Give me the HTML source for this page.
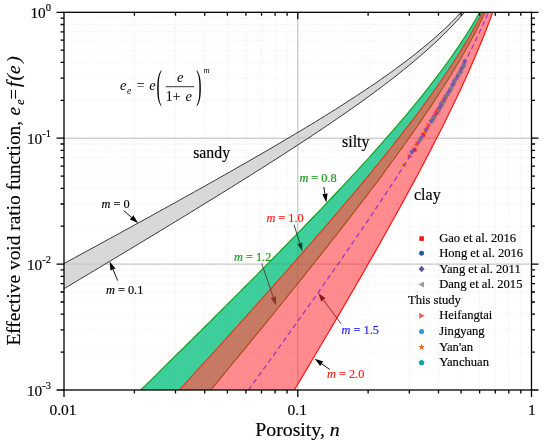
<!DOCTYPE html>
<html><head><meta charset="utf-8"><title>Effective void ratio function</title>
<style>html,body{margin:0;padding:0;background:#fff}svg{display:block}text{stroke:#000;stroke-width:.16px}.f text{stroke:none}</style></head>
<body>
<svg width="550" height="446" viewBox="0 0 550 446" font-family="'Liberation Serif', serif">
<rect width="550" height="446" fill="#fff"/>
<path d="M134.4,12.3 V390.0 M175.5,12.3 V390.0 M204.7,12.3 V390.0 M227.4,12.3 V390.0 M245.9,12.3 V390.0 M261.5,12.3 V390.0 M275.1,12.3 V390.0 M287.1,12.3 V390.0 M368.1,12.3 V390.0 M409.3,12.3 V390.0 M438.5,12.3 V390.0 M461.1,12.3 V390.0 M479.6,12.3 V390.0 M495.3,12.3 V390.0 M508.8,12.3 V390.0 M520.8,12.3 V390.0 M64.0,352.1 H531.5 M64.0,329.9 H531.5 M64.0,314.2 H531.5 M64.0,302.0 H531.5 M64.0,292.0 H531.5 M64.0,283.6 H531.5 M64.0,276.3 H531.5 M64.0,269.9 H531.5 M64.0,226.2 H531.5 M64.0,204.0 H531.5 M64.0,188.3 H531.5 M64.0,176.1 H531.5 M64.0,166.1 H531.5 M64.0,157.7 H531.5 M64.0,150.4 H531.5 M64.0,144.0 H531.5 M64.0,100.3 H531.5 M64.0,78.1 H531.5 M64.0,62.4 H531.5 M64.0,50.2 H531.5 M64.0,40.2 H531.5 M64.0,31.8 H531.5 M64.0,24.5 H531.5 M64.0,18.1 H531.5" stroke="#e9e9e9" stroke-width="0.8" stroke-dasharray="1.2 1.6" fill="none"/>
<path d="M297.8,12.3 V390.0 M64.0,138.2 H531.5 M64.0,264.1 H531.5" stroke="#a8a8a8" stroke-width="0.8" fill="none"/>
<clipPath id="c"><rect x="64.0" y="12.3" width="467.5" height="377.7"/></clipPath>
<g clip-path="url(#c)">
<path d="M64.0,263.6 L69.0,260.8 L74.1,258.1 L79.1,255.3 L84.1,252.6 L89.1,249.9 L94.2,247.1 L99.2,244.4 L104.2,241.6 L109.2,238.9 L114.3,236.1 L119.3,233.4 L124.3,230.6 L129.4,227.9 L134.4,225.1 L139.4,222.3 L144.4,219.6 L149.5,216.8 L154.5,214.0 L159.5,211.2 L164.5,208.5 L169.6,205.7 L174.6,202.9 L179.6,200.1 L184.6,197.3 L189.7,194.5 L194.7,191.7 L199.7,188.9 L204.8,186.1 L209.8,183.2 L214.8,180.4 L219.8,177.6 L224.9,174.7 L229.9,171.9 L234.9,169.0 L239.9,166.1 L245.0,163.3 L250.0,160.4 L255.0,157.5 L260.1,154.6 L265.1,151.7 L270.1,148.8 L275.1,145.8 L280.2,142.9 L285.2,139.9 L290.2,136.9 L295.2,133.9 L300.3,130.9 L305.3,127.9 L310.3,124.9 L315.4,121.8 L320.4,118.7 L325.4,115.6 L330.4,112.5 L335.5,109.3 L340.5,106.1 L345.5,102.9 L350.5,99.7 L355.6,96.4 L360.6,93.1 L365.6,89.8 L370.6,86.4 L375.7,83.0 L380.7,79.5 L385.7,76.0 L390.8,72.4 L395.8,68.7 L400.8,65.0 L405.8,61.3 L410.9,57.4 L415.9,53.5 L420.9,49.4 L425.9,45.3 L431.0,41.1 L436.0,36.7 L441.0,32.2 L446.1,27.5 L451.1,22.6 L456.1,17.6 L461.1,12.3 L464.4,12.3 L459.4,18.1 L454.3,23.6 L449.2,28.9 L444.2,34.0 L439.1,38.9 L434.0,43.7 L429.0,48.3 L423.9,52.8 L418.8,57.2 L413.7,61.5 L408.7,65.7 L403.6,69.8 L398.5,73.9 L393.5,77.9 L388.4,81.8 L383.3,85.6 L378.3,89.4 L373.2,93.2 L368.1,96.9 L363.1,100.6 L358.0,104.2 L352.9,107.8 L347.9,111.3 L342.8,114.8 L337.7,118.3 L332.6,121.8 L327.6,125.2 L322.5,128.7 L317.4,132.0 L312.4,135.4 L307.3,138.8 L302.2,142.1 L297.2,145.4 L292.1,148.7 L287.0,152.0 L282.0,155.3 L276.9,158.5 L271.8,161.7 L266.8,165.0 L261.7,168.2 L256.6,171.4 L251.5,174.6 L246.5,177.8 L241.4,180.9 L236.3,184.1 L231.3,187.3 L226.2,190.4 L221.1,193.6 L216.1,196.7 L211.0,199.8 L205.9,202.9 L200.9,206.0 L195.8,209.2 L190.7,212.3 L185.7,215.4 L180.6,218.5 L175.5,221.5 L170.4,224.6 L165.4,227.7 L160.3,230.8 L155.2,233.9 L150.2,236.9 L145.1,240.0 L140.0,243.1 L135.0,246.1 L129.9,249.2 L124.8,252.2 L119.8,255.3 L114.7,258.3 L109.6,261.4 L104.6,264.4 L99.5,267.5 L94.4,270.5 L89.3,273.6 L84.3,276.6 L79.2,279.6 L74.1,282.7 L69.1,285.7 L64.0,288.7Z" fill="#c8c8c8" fill-opacity="0.7" stroke="none"/>
<path d="M64.0,263.6 L69.0,260.8 L74.1,258.1 L79.1,255.3 L84.1,252.6 L89.1,249.9 L94.2,247.1 L99.2,244.4 L104.2,241.6 L109.2,238.9 L114.3,236.1 L119.3,233.4 L124.3,230.6 L129.4,227.9 L134.4,225.1 L139.4,222.3 L144.4,219.6 L149.5,216.8 L154.5,214.0 L159.5,211.2 L164.5,208.5 L169.6,205.7 L174.6,202.9 L179.6,200.1 L184.6,197.3 L189.7,194.5 L194.7,191.7 L199.7,188.9 L204.8,186.1 L209.8,183.2 L214.8,180.4 L219.8,177.6 L224.9,174.7 L229.9,171.9 L234.9,169.0 L239.9,166.1 L245.0,163.3 L250.0,160.4 L255.0,157.5 L260.1,154.6 L265.1,151.7 L270.1,148.8 L275.1,145.8 L280.2,142.9 L285.2,139.9 L290.2,136.9 L295.2,133.9 L300.3,130.9 L305.3,127.9 L310.3,124.9 L315.4,121.8 L320.4,118.7 L325.4,115.6 L330.4,112.5 L335.5,109.3 L340.5,106.1 L345.5,102.9 L350.5,99.7 L355.6,96.4 L360.6,93.1 L365.6,89.8 L370.6,86.4 L375.7,83.0 L380.7,79.5 L385.7,76.0 L390.8,72.4 L395.8,68.7 L400.8,65.0 L405.8,61.3 L410.9,57.4 L415.9,53.5 L420.9,49.4 L425.9,45.3 L431.0,41.1 L436.0,36.7 L441.0,32.2 L446.1,27.5 L451.1,22.6 L456.1,17.6 L461.1,12.3" fill="none" stroke="#222" stroke-width="0.9"/>
<path d="M64.0,288.7 L69.1,285.7 L74.1,282.7 L79.2,279.6 L84.3,276.6 L89.3,273.6 L94.4,270.5 L99.5,267.5 L104.6,264.4 L109.6,261.4 L114.7,258.3 L119.8,255.3 L124.8,252.2 L129.9,249.2 L135.0,246.1 L140.0,243.1 L145.1,240.0 L150.2,236.9 L155.2,233.9 L160.3,230.8 L165.4,227.7 L170.4,224.6 L175.5,221.5 L180.6,218.5 L185.7,215.4 L190.7,212.3 L195.8,209.2 L200.9,206.0 L205.9,202.9 L211.0,199.8 L216.1,196.7 L221.1,193.6 L226.2,190.4 L231.3,187.3 L236.3,184.1 L241.4,180.9 L246.5,177.8 L251.5,174.6 L256.6,171.4 L261.7,168.2 L266.8,165.0 L271.8,161.7 L276.9,158.5 L282.0,155.3 L287.0,152.0 L292.1,148.7 L297.2,145.4 L302.2,142.1 L307.3,138.8 L312.4,135.4 L317.4,132.0 L322.5,128.7 L327.6,125.2 L332.6,121.8 L337.7,118.3 L342.8,114.8 L347.9,111.3 L352.9,107.8 L358.0,104.2 L363.1,100.6 L368.1,96.9 L373.2,93.2 L378.3,89.4 L383.3,85.6 L388.4,81.8 L393.5,77.9 L398.5,73.9 L403.6,69.8 L408.7,65.7 L413.7,61.5 L418.8,57.2 L423.9,52.8 L429.0,48.3 L434.0,43.7 L439.1,38.9 L444.2,34.0 L449.2,28.9 L454.3,23.6 L459.4,18.1 L464.4,12.3" fill="none" stroke="#222" stroke-width="0.9"/>
<path d="M140.7,390.0 L145.0,385.8 L149.3,381.6 L153.6,377.4 L157.9,373.1 L162.2,368.9 L166.5,364.7 L170.7,360.5 L175.0,356.2 L179.3,352.0 L183.6,347.8 L187.9,343.5 L192.2,339.3 L196.5,335.0 L200.8,330.8 L205.1,326.5 L209.4,322.3 L213.7,318.0 L218.0,313.7 L222.2,309.5 L226.5,305.2 L230.8,300.9 L235.1,296.6 L239.4,292.3 L243.7,288.0 L248.0,283.7 L252.3,279.4 L256.6,275.1 L260.9,270.7 L265.2,266.4 L269.5,262.1 L273.7,257.7 L278.0,253.3 L282.3,249.0 L286.6,244.6 L290.9,240.2 L295.2,235.8 L299.5,231.4 L303.8,226.9 L308.1,222.5 L312.4,218.0 L316.7,213.6 L321.0,209.1 L325.2,204.6 L329.5,200.1 L333.8,195.5 L338.1,191.0 L342.4,186.4 L346.7,181.8 L351.0,177.2 L355.3,172.5 L359.6,167.9 L363.9,163.2 L368.2,158.5 L372.5,153.7 L376.7,148.9 L381.0,144.1 L385.3,139.2 L389.6,134.3 L393.9,129.4 L398.2,124.4 L402.5,119.4 L406.8,114.3 L411.1,109.1 L415.4,103.9 L419.7,98.6 L424.0,93.3 L428.2,87.9 L432.5,82.4 L436.8,76.7 L441.1,71.0 L445.4,65.2 L449.7,59.2 L454.0,53.1 L458.3,46.9 L462.6,40.4 L466.9,33.8 L471.2,26.9 L475.4,19.8 L479.7,12.3 L482.6,12.3 L478.8,19.6 L475.0,26.7 L471.1,33.5 L467.3,40.0 L463.4,46.4 L459.6,52.7 L455.8,58.7 L451.9,64.7 L448.1,70.5 L444.2,76.2 L440.4,81.8 L436.6,87.3 L432.7,92.7 L428.9,98.1 L425.0,103.4 L421.2,108.6 L417.4,113.8 L413.5,118.9 L409.7,123.9 L405.8,128.9 L402.0,133.9 L398.2,138.8 L394.3,143.7 L390.5,148.5 L386.6,153.3 L382.8,158.1 L379.0,162.9 L375.1,167.6 L371.3,172.3 L367.4,176.9 L363.6,181.6 L359.8,186.2 L355.9,190.8 L352.1,195.3 L348.2,199.9 L344.4,204.4 L340.6,208.9 L336.7,213.4 L332.9,217.9 L329.0,222.4 L325.2,226.9 L321.4,231.3 L317.5,235.7 L313.7,240.1 L309.8,244.5 L306.0,248.9 L302.2,253.3 L298.3,257.7 L294.5,262.1 L290.6,266.4 L286.8,270.8 L283.0,275.1 L279.1,279.4 L275.3,283.7 L271.4,288.1 L267.6,292.4 L263.8,296.7 L259.9,301.0 L256.1,305.2 L252.2,309.5 L248.4,313.8 L244.6,318.1 L240.7,322.3 L236.9,326.6 L233.0,330.8 L229.2,335.1 L225.4,339.3 L221.5,343.6 L217.7,347.8 L213.8,352.1 L210.0,356.3 L206.2,360.5 L202.3,364.7 L198.5,368.9 L194.6,373.2 L190.8,377.4 L187.0,381.6 L183.1,385.8 L179.3,390.0Z" fill="#00bf7b" fill-opacity="0.76"/>
<path d="M179.3,390.0 L183.1,385.8 L187.0,381.6 L190.8,377.4 L194.6,373.2 L198.5,368.9 L202.3,364.7 L206.2,360.5 L210.0,356.3 L213.8,352.1 L217.7,347.8 L221.5,343.6 L225.4,339.3 L229.2,335.1 L233.0,330.8 L236.9,326.6 L240.7,322.3 L244.6,318.1 L248.4,313.8 L252.2,309.5 L256.1,305.2 L259.9,301.0 L263.8,296.7 L267.6,292.4 L271.4,288.1 L275.3,283.7 L279.1,279.4 L283.0,275.1 L286.8,270.8 L290.6,266.4 L294.5,262.1 L298.3,257.7 L302.2,253.3 L306.0,248.9 L309.8,244.5 L313.7,240.1 L317.5,235.7 L321.4,231.3 L325.2,226.9 L329.0,222.4 L332.9,217.9 L336.7,213.4 L340.6,208.9 L344.4,204.4 L348.2,199.9 L352.1,195.3 L355.9,190.8 L359.8,186.2 L363.6,181.6 L367.4,176.9 L371.3,172.3 L375.1,167.6 L379.0,162.9 L382.8,158.1 L386.6,153.3 L390.5,148.5 L394.3,143.7 L398.2,138.8 L402.0,133.9 L405.8,128.9 L409.7,123.9 L413.5,118.9 L417.4,113.8 L421.2,108.6 L425.0,103.4 L428.9,98.1 L432.7,92.7 L436.6,87.3 L440.4,81.8 L444.2,76.2 L448.1,70.5 L451.9,64.7 L455.8,58.7 L459.6,52.7 L463.4,46.4 L467.3,40.0 L471.1,33.5 L475.0,26.7 L478.8,19.6 L482.6,12.3 L485.2,12.3 L481.7,19.5 L478.2,26.5 L474.8,33.2 L471.3,39.7 L467.8,46.0 L464.3,52.2 L460.9,58.3 L457.4,64.2 L453.9,70.0 L450.4,75.7 L447.0,81.3 L443.5,86.8 L440.0,92.2 L436.5,97.6 L433.1,102.9 L429.6,108.1 L426.1,113.3 L422.6,118.4 L419.2,123.4 L415.7,128.5 L412.2,133.4 L408.8,138.4 L405.3,143.3 L401.8,148.1 L398.3,152.9 L394.9,157.7 L391.4,162.5 L387.9,167.2 L384.4,171.9 L381.0,176.6 L377.5,181.3 L374.0,185.9 L370.5,190.5 L367.1,195.1 L363.6,199.7 L360.1,204.2 L356.6,208.7 L353.2,213.2 L349.7,217.7 L346.2,222.2 L342.7,226.7 L339.3,231.2 L335.8,235.6 L332.3,240.0 L328.9,244.4 L325.4,248.8 L321.9,253.2 L318.4,257.6 L315.0,262.0 L311.5,266.4 L308.0,270.7 L304.5,275.1 L301.1,279.4 L297.6,283.7 L294.1,288.0 L290.6,292.3 L287.2,296.7 L283.7,301.0 L280.2,305.2 L276.7,309.5 L273.3,313.8 L269.8,318.1 L266.3,322.3 L262.9,326.6 L259.4,330.9 L255.9,335.1 L252.4,339.4 L249.0,343.6 L245.5,347.8 L242.0,352.1 L238.5,356.3 L235.1,360.5 L231.6,364.7 L228.1,369.0 L224.6,373.2 L221.2,377.4 L217.7,381.6 L214.2,385.8 L210.7,390.0Z" fill="#b8593d" fill-opacity="0.8"/>
<path d="M140.7,390.0 L145.0,385.8 L149.3,381.6 L153.6,377.4 L157.9,373.1 L162.2,368.9 L166.5,364.7 L170.7,360.5 L175.0,356.2 L179.3,352.0 L183.6,347.8 L187.9,343.5 L192.2,339.3 L196.5,335.0 L200.8,330.8 L205.1,326.5 L209.4,322.3 L213.7,318.0 L218.0,313.7 L222.2,309.5 L226.5,305.2 L230.8,300.9 L235.1,296.6 L239.4,292.3 L243.7,288.0 L248.0,283.7 L252.3,279.4 L256.6,275.1 L260.9,270.7 L265.2,266.4 L269.5,262.1 L273.7,257.7 L278.0,253.3 L282.3,249.0 L286.6,244.6 L290.9,240.2 L295.2,235.8 L299.5,231.4 L303.8,226.9 L308.1,222.5 L312.4,218.0 L316.7,213.6 L321.0,209.1 L325.2,204.6 L329.5,200.1 L333.8,195.5 L338.1,191.0 L342.4,186.4 L346.7,181.8 L351.0,177.2 L355.3,172.5 L359.6,167.9 L363.9,163.2 L368.2,158.5 L372.5,153.7 L376.7,148.9 L381.0,144.1 L385.3,139.2 L389.6,134.3 L393.9,129.4 L398.2,124.4 L402.5,119.4 L406.8,114.3 L411.1,109.1 L415.4,103.9 L419.7,98.6 L424.0,93.3 L428.2,87.9 L432.5,82.4 L436.8,76.7 L441.1,71.0 L445.4,65.2 L449.7,59.2 L454.0,53.1 L458.3,46.9 L462.6,40.4 L466.9,33.8 L471.2,26.9 L475.4,19.8 L479.7,12.3" fill="none" stroke="#149a14" stroke-width="1.1"/>
<path d="M210.7,390.0 L214.2,385.8 L217.7,381.6 L221.2,377.4 L224.6,373.2 L228.1,369.0 L231.6,364.7 L235.1,360.5 L238.5,356.3 L242.0,352.1 L245.5,347.8 L249.0,343.6 L252.4,339.4 L255.9,335.1 L259.4,330.9 L262.9,326.6 L266.3,322.3 L269.8,318.1 L273.3,313.8 L276.7,309.5 L280.2,305.2 L283.7,301.0 L287.2,296.7 L290.6,292.3 L294.1,288.0 L297.6,283.7 L301.1,279.4 L304.5,275.1 L308.0,270.7 L311.5,266.4 L315.0,262.0 L318.4,257.6 L321.9,253.2 L325.4,248.8 L328.9,244.4 L332.3,240.0 L335.8,235.6 L339.3,231.2 L342.7,226.7 L346.2,222.2 L349.7,217.7 L353.2,213.2 L356.6,208.7 L360.1,204.2 L363.6,199.7 L367.1,195.1 L370.5,190.5 L374.0,185.9 L377.5,181.3 L381.0,176.6 L384.4,171.9 L387.9,167.2 L391.4,162.5 L394.9,157.7 L398.3,152.9 L401.8,148.1 L405.3,143.3 L408.8,138.4 L412.2,133.4 L415.7,128.5 L419.2,123.4 L422.6,118.4 L426.1,113.3 L429.6,108.1 L433.1,102.9 L436.5,97.6 L440.0,92.2 L443.5,86.8 L447.0,81.3 L450.4,75.7 L453.9,70.0 L457.4,64.2 L460.9,58.3 L464.3,52.2 L467.8,46.0 L471.3,39.7 L474.8,33.2 L478.2,26.5 L481.7,19.5 L485.2,12.3" fill="none" stroke="#8b5a14" stroke-width="1.1"/>
<path d="M210.7,390.0 L214.2,385.8 L217.7,381.6 L221.2,377.4 L224.6,373.2 L228.1,369.0 L231.6,364.7 L235.1,360.5 L238.5,356.3 L242.0,352.1 L245.5,347.8 L249.0,343.6 L252.4,339.4 L255.9,335.1 L259.4,330.9 L262.9,326.6 L266.3,322.3 L269.8,318.1 L273.3,313.8 L276.7,309.5 L280.2,305.2 L283.7,301.0 L287.2,296.7 L290.6,292.3 L294.1,288.0 L297.6,283.7 L301.1,279.4 L304.5,275.1 L308.0,270.7 L311.5,266.4 L315.0,262.0 L318.4,257.6 L321.9,253.2 L325.4,248.8 L328.9,244.4 L332.3,240.0 L335.8,235.6 L339.3,231.2 L342.7,226.7 L346.2,222.2 L349.7,217.7 L353.2,213.2 L356.6,208.7 L360.1,204.2 L363.6,199.7 L367.1,195.1 L370.5,190.5 L374.0,185.9 L377.5,181.3 L381.0,176.6 L384.4,171.9 L387.9,167.2 L391.4,162.5 L394.9,157.7 L398.3,152.9 L401.8,148.1 L405.3,143.3 L408.8,138.4 L412.2,133.4 L415.7,128.5 L419.2,123.4 L422.6,118.4 L426.1,113.3 L429.6,108.1 L433.1,102.9 L436.5,97.6 L440.0,92.2 L443.5,86.8 L447.0,81.3 L450.4,75.7 L453.9,70.0 L457.4,64.2 L460.9,58.3 L464.3,52.2 L467.8,46.0 L471.3,39.7 L474.8,33.2 L478.2,26.5 L481.7,19.5 L485.2,12.3 L492.7,12.3 L490.2,19.2 L487.7,25.8 L485.2,32.3 L482.7,38.6 L480.1,44.8 L477.6,50.8 L475.1,56.8 L472.6,62.6 L470.1,68.3 L467.6,74.0 L465.1,79.5 L462.6,85.0 L460.1,90.4 L457.5,95.8 L455.0,101.1 L452.5,106.3 L450.0,111.5 L447.5,116.6 L445.0,121.7 L442.5,126.7 L440.0,131.7 L437.4,136.7 L434.9,141.6 L432.4,146.5 L429.9,151.4 L427.4,156.2 L424.9,161.0 L422.4,165.8 L419.9,170.5 L417.4,175.3 L414.8,179.9 L412.3,184.6 L409.8,189.3 L407.3,193.9 L404.8,198.5 L402.3,203.1 L399.8,207.7 L397.3,212.2 L394.8,216.8 L392.2,221.3 L389.7,225.8 L387.2,230.3 L384.7,234.8 L382.2,239.3 L379.7,243.7 L377.2,248.2 L374.7,252.6 L372.2,257.0 L369.6,261.4 L367.1,265.8 L364.6,270.2 L362.1,274.6 L359.6,278.9 L357.1,283.3 L354.6,287.7 L352.1,292.0 L349.6,296.3 L347.0,300.7 L344.5,305.0 L342.0,309.3 L339.5,313.6 L337.0,317.9 L334.5,322.2 L332.0,326.4 L329.5,330.7 L327.0,335.0 L324.4,339.2 L321.9,343.5 L319.4,347.8 L316.9,352.0 L314.4,356.2 L311.9,360.5 L309.4,364.7 L306.9,368.9 L304.4,373.2 L301.8,377.4 L299.3,381.6 L296.8,385.8 L294.3,390.0Z" fill="#ff181e" fill-opacity="0.5"/>
<path d="M179.3,390.0 L183.1,385.8 L187.0,381.6 L190.8,377.4 L194.6,373.2 L198.5,368.9 L202.3,364.7 L206.2,360.5 L210.0,356.3 L213.8,352.1 L217.7,347.8 L221.5,343.6 L225.4,339.3 L229.2,335.1 L233.0,330.8 L236.9,326.6 L240.7,322.3 L244.6,318.1 L248.4,313.8 L252.2,309.5 L256.1,305.2 L259.9,301.0 L263.8,296.7 L267.6,292.4 L271.4,288.1 L275.3,283.7 L279.1,279.4 L283.0,275.1 L286.8,270.8 L290.6,266.4 L294.5,262.1 L298.3,257.7 L302.2,253.3 L306.0,248.9 L309.8,244.5 L313.7,240.1 L317.5,235.7 L321.4,231.3 L325.2,226.9 L329.0,222.4 L332.9,217.9 L336.7,213.4 L340.6,208.9 L344.4,204.4 L348.2,199.9 L352.1,195.3 L355.9,190.8 L359.8,186.2 L363.6,181.6 L367.4,176.9 L371.3,172.3 L375.1,167.6 L379.0,162.9 L382.8,158.1 L386.6,153.3 L390.5,148.5 L394.3,143.7 L398.2,138.8 L402.0,133.9 L405.8,128.9 L409.7,123.9 L413.5,118.9 L417.4,113.8 L421.2,108.6 L425.0,103.4 L428.9,98.1 L432.7,92.7 L436.6,87.3 L440.4,81.8 L444.2,76.2 L448.1,70.5 L451.9,64.7 L455.8,58.7 L459.6,52.7 L463.4,46.4 L467.3,40.0 L471.1,33.5 L475.0,26.7 L478.8,19.6 L482.6,12.3" fill="none" stroke="#d83a1a" stroke-width="1.1"/>
<path d="M294.3,390.0 L296.8,385.8 L299.3,381.6 L301.8,377.4 L304.4,373.2 L306.9,368.9 L309.4,364.7 L311.9,360.5 L314.4,356.2 L316.9,352.0 L319.4,347.8 L321.9,343.5 L324.4,339.2 L327.0,335.0 L329.5,330.7 L332.0,326.4 L334.5,322.2 L337.0,317.9 L339.5,313.6 L342.0,309.3 L344.5,305.0 L347.0,300.7 L349.6,296.3 L352.1,292.0 L354.6,287.7 L357.1,283.3 L359.6,278.9 L362.1,274.6 L364.6,270.2 L367.1,265.8 L369.6,261.4 L372.2,257.0 L374.7,252.6 L377.2,248.2 L379.7,243.7 L382.2,239.3 L384.7,234.8 L387.2,230.3 L389.7,225.8 L392.2,221.3 L394.8,216.8 L397.3,212.2 L399.8,207.7 L402.3,203.1 L404.8,198.5 L407.3,193.9 L409.8,189.3 L412.3,184.6 L414.8,179.9 L417.4,175.3 L419.9,170.5 L422.4,165.8 L424.9,161.0 L427.4,156.2 L429.9,151.4 L432.4,146.5 L434.9,141.6 L437.4,136.7 L440.0,131.7 L442.5,126.7 L445.0,121.7 L447.5,116.6 L450.0,111.5 L452.5,106.3 L455.0,101.1 L457.5,95.8 L460.1,90.4 L462.6,85.0 L465.1,79.5 L467.6,74.0 L470.1,68.3 L472.6,62.6 L475.1,56.8 L477.6,50.8 L480.1,44.8 L482.7,38.6 L485.2,32.3 L487.7,25.8 L490.2,19.2 L492.7,12.3" fill="none" stroke="#ff1414" stroke-width="1.2"/>
</g>
<rect x="412.7" y="147.9" width="3.8" height="3.8" fill="#ff1414"/>
<rect x="421.5" y="132.9" width="3.8" height="3.8" fill="#ff1414"/>
<rect x="434.7" y="111.1" width="3.8" height="3.8" fill="#ff1414"/>
<rect x="436.5" y="108.1" width="3.8" height="3.8" fill="#ff1414"/>
<rect x="435.3" y="110.2" width="3.8" height="3.8" fill="#ff1414"/>
<rect x="441.7" y="99.2" width="3.8" height="3.8" fill="#ff1414"/>
<circle cx="441.5" cy="104.4" r="2.2" fill="#1f5fa8"/>
<path d="M411.8,149.1 l2.6,2.9 l-2.6,2.9 l-2.6,-2.9Z" fill="#6d62a8"/>
<path d="M420.8,135.5 l2.6,2.9 l-2.6,2.9 l-2.6,-2.9Z" fill="#6d62a8"/>
<path d="M426.0,126.9 l2.6,2.9 l-2.6,2.9 l-2.6,-2.9Z" fill="#6d62a8"/>
<path d="M434.0,114.3 l2.6,2.9 l-2.6,2.9 l-2.6,-2.9Z" fill="#6d62a8"/>
<path d="M431.3,117.9 l2.6,2.9 l-2.6,2.9 l-2.6,-2.9Z" fill="#6d62a8"/>
<path d="M433.7,114.2 l2.6,2.9 l-2.6,2.9 l-2.6,-2.9Z" fill="#6d62a8"/>
<path d="M436.6,110.3 l2.6,2.9 l-2.6,2.9 l-2.6,-2.9Z" fill="#6d62a8"/>
<path d="M439.4,105.2 l2.6,2.9 l-2.6,2.9 l-2.6,-2.9Z" fill="#6d62a8"/>
<path d="M441.5,100.3 l2.6,2.9 l-2.6,2.9 l-2.6,-2.9Z" fill="#6d62a8"/>
<path d="M444.6,96.2 l2.6,2.9 l-2.6,2.9 l-2.6,-2.9Z" fill="#6d62a8"/>
<path d="M447.2,91.8 l2.6,2.9 l-2.6,2.9 l-2.6,-2.9Z" fill="#6d62a8"/>
<path d="M449.9,87.6 l2.6,2.9 l-2.6,2.9 l-2.6,-2.9Z" fill="#6d62a8"/>
<path d="M452.5,82.3 l2.6,2.9 l-2.6,2.9 l-2.6,-2.9Z" fill="#6d62a8"/>
<path d="M454.5,77.9 l2.6,2.9 l-2.6,2.9 l-2.6,-2.9Z" fill="#6d62a8"/>
<path d="M457.8,72.9 l2.6,2.9 l-2.6,2.9 l-2.6,-2.9Z" fill="#6d62a8"/>
<path d="M460.4,69.1 l2.6,2.9 l-2.6,2.9 l-2.6,-2.9Z" fill="#6d62a8"/>
<path d="M462.8,64.2 l2.6,2.9 l-2.6,2.9 l-2.6,-2.9Z" fill="#6d62a8"/>
<path d="M464.7,58.4 l2.6,2.9 l-2.6,2.9 l-2.6,-2.9Z" fill="#6d62a8"/>
<path d="M416.8,140.3 l4.6,-2.5 v5Z" fill="#7f7682"/>
<path d="M418.8,137.1 l4.6,-2.5 v5Z" fill="#7f7682"/>
<path d="M428.6,121.5 l4.6,-2.5 v5Z" fill="#7f7682"/>
<path d="M430.0,119.3 l4.6,-2.5 v5Z" fill="#7f7682"/>
<path d="M437.6,106.1 l4.6,-2.5 v5Z" fill="#7f7682"/>
<path d="M429.7,119.3 l4.6,-2.5 v5Z" fill="#7f7682"/>
<path d="M430.5,118.3 l4.6,-2.5 v5Z" fill="#7f7682"/>
<path d="M431.7,115.5 l4.6,-2.5 v5Z" fill="#7f7682"/>
<path d="M432.6,113.5 l4.6,-2.5 v5Z" fill="#7f7682"/>
<path d="M434.4,110.8 l4.6,-2.5 v5Z" fill="#7f7682"/>
<path d="M435.7,110.5 l4.6,-2.5 v5Z" fill="#7f7682"/>
<path d="M437.8,106.1 l4.6,-2.5 v5Z" fill="#7f7682"/>
<path d="M438.6,105.0 l4.6,-2.5 v5Z" fill="#7f7682"/>
<path d="M439.7,102.8 l4.6,-2.5 v5Z" fill="#7f7682"/>
<path d="M440.5,100.9 l4.6,-2.5 v5Z" fill="#7f7682"/>
<path d="M442.6,97.1 l4.6,-2.5 v5Z" fill="#7f7682"/>
<path d="M442.9,95.8 l4.6,-2.5 v5Z" fill="#7f7682"/>
<path d="M444.9,93.4 l4.6,-2.5 v5Z" fill="#7f7682"/>
<path d="M445.9,91.4 l4.6,-2.5 v5Z" fill="#7f7682"/>
<path d="M447.5,88.8 l4.6,-2.5 v5Z" fill="#7f7682"/>
<path d="M448.6,87.7 l4.6,-2.5 v5Z" fill="#7f7682"/>
<path d="M450.8,83.4 l4.6,-2.5 v5Z" fill="#7f7682"/>
<path d="M451.1,82.8 l4.6,-2.5 v5Z" fill="#7f7682"/>
<path d="M452.4,79.5 l4.6,-2.5 v5Z" fill="#7f7682"/>
<path d="M454.0,77.8 l4.6,-2.5 v5Z" fill="#7f7682"/>
<path d="M455.7,74.6 l4.6,-2.5 v5Z" fill="#7f7682"/>
<path d="M456.4,72.8 l4.6,-2.5 v5Z" fill="#7f7682"/>
<path d="M458.1,69.9 l4.6,-2.5 v5Z" fill="#7f7682"/>
<path d="M458.5,68.3 l4.6,-2.5 v5Z" fill="#7f7682"/>
<path d="M461.0,64.4 l4.6,-2.5 v5Z" fill="#7f7682"/>
<path d="M461.4,63.3 l4.6,-2.5 v5Z" fill="#7f7682"/>
<path d="M412.6,156.4 l-4.9,-2.7 v5.4Z" fill="#f04848"/>
<path d="M420.4,143.3 l-4.9,-2.7 v5.4Z" fill="#f04848"/>
<path d="M431.6,125.2 l-4.9,-2.7 v5.4Z" fill="#f04848"/>
<path d="M440.4,111.4 l-4.9,-2.7 v5.4Z" fill="#f04848"/>
<path d="M439.0,113.5 l-4.9,-2.7 v5.4Z" fill="#f04848"/>
<path d="M447.4,99.5 l-4.9,-2.7 v5.4Z" fill="#f04848"/>
<path d="M404.2,161.9 L405.0,164.0 L407.1,164.1 L405.4,165.4 L406.0,167.5 L404.2,166.3 L402.4,167.5 L403.0,165.4 L401.3,164.1 L403.4,164.0Z" fill="#f0601a"/>
<path d="M416.5,141.9 L417.3,144.0 L419.4,144.1 L417.7,145.4 L418.3,147.6 L416.5,146.3 L414.7,147.6 L415.3,145.4 L413.6,144.1 L415.7,144.0Z" fill="#f0601a"/>
<path d="M424.4,130.0 L425.2,132.0 L427.3,132.1 L425.6,133.5 L426.2,135.6 L424.4,134.4 L422.6,135.6 L423.2,133.5 L421.5,132.1 L423.6,132.0Z" fill="#f0601a"/>
<path d="M427.8,124.1 L428.6,126.2 L430.7,126.3 L429.0,127.6 L429.6,129.7 L427.8,128.5 L426.0,129.7 L426.6,127.6 L424.9,126.3 L427.0,126.2Z" fill="#f0601a"/>
<g clip-path="url(#c)">
<path d="M248.4,390.0 L251.5,385.8 L254.5,381.6 L257.5,377.4 L260.6,373.2 L263.6,369.0 L266.6,364.7 L269.7,360.5 L272.7,356.3 L275.8,352.1 L278.8,347.8 L281.8,343.6 L284.9,339.3 L287.9,335.1 L290.9,330.8 L294.0,326.6 L297.0,322.3 L300.1,318.0 L303.1,313.8 L306.1,309.5 L309.2,305.2 L312.2,300.9 L315.3,296.6 L318.3,292.3 L321.3,287.9 L324.4,283.6 L327.4,279.3 L330.4,274.9 L333.5,270.6 L336.5,266.2 L339.6,261.8 L342.6,257.4 L345.6,253.0 L348.7,248.6 L351.7,244.2 L354.7,239.8 L357.8,235.3 L360.8,230.9 L363.9,226.4 L366.9,221.9 L369.9,217.4 L373.0,212.9 L376.0,208.4 L379.0,203.8 L382.1,199.2 L385.1,194.7 L388.2,190.0 L391.2,185.4 L394.2,180.8 L397.3,176.1 L400.3,171.4 L403.3,166.7 L406.4,161.9 L409.4,157.2 L412.5,152.3 L415.5,147.5 L418.5,142.6 L421.6,137.7 L424.6,132.8 L427.6,127.8 L430.7,122.8 L433.7,117.7 L436.8,112.6 L439.8,107.4 L442.8,102.1 L445.9,96.8 L448.9,91.5 L451.9,86.1 L455.0,80.6 L458.0,75.0 L461.1,69.3 L464.1,63.5 L467.1,57.6 L470.2,51.6 L473.2,45.5 L476.2,39.2 L479.3,32.8 L482.3,26.2 L485.4,19.4 L488.4,12.3" fill="none" stroke="#9630cc" stroke-width="1.2" stroke-dasharray="5 3.5"/>
</g>
<rect x="64.0" y="12.3" width="467.5" height="377.7" fill="none" stroke="#000" stroke-width="1.3"/>
<path d="M64.0,390.0 v7 M297.8,390.0 v7 M297.8,12.3 v7 M531.5,390.0 v7 M64.0,390.0 h-7.5 M531.5,390.0 h7 M64.0,264.1 h-7.5 M531.5,264.1 h7 M64.0,138.2 h-7.5 M531.5,138.2 h7 M64.0,12.3 h-7.5 M531.5,12.3 h7 M134.4,390.0 v3.5 M134.4,12.3 v3.5 M175.5,390.0 v3.5 M175.5,12.3 v3.5 M204.7,390.0 v3.5 M204.7,12.3 v3.5 M227.4,390.0 v3.5 M227.4,12.3 v3.5 M245.9,390.0 v3.5 M245.9,12.3 v3.5 M261.5,390.0 v3.5 M261.5,12.3 v3.5 M275.1,390.0 v3.5 M275.1,12.3 v3.5 M287.1,390.0 v3.5 M287.1,12.3 v3.5 M368.1,390.0 v3.5 M368.1,12.3 v3.5 M409.3,390.0 v3.5 M409.3,12.3 v3.5 M438.5,390.0 v3.5 M438.5,12.3 v3.5 M461.1,390.0 v3.5 M461.1,12.3 v3.5 M479.6,390.0 v3.5 M479.6,12.3 v3.5 M495.3,390.0 v3.5 M495.3,12.3 v3.5 M508.8,390.0 v3.5 M508.8,12.3 v3.5 M520.8,390.0 v3.5 M520.8,12.3 v3.5 M64.0,352.1 h-3.5 M531.5,352.1 h3.5 M64.0,329.9 h-3.5 M531.5,329.9 h3.5 M64.0,314.2 h-3.5 M531.5,314.2 h3.5 M64.0,302.0 h-3.5 M531.5,302.0 h3.5 M64.0,292.0 h-3.5 M531.5,292.0 h3.5 M64.0,283.6 h-3.5 M531.5,283.6 h3.5 M64.0,276.3 h-3.5 M531.5,276.3 h3.5 M64.0,269.9 h-3.5 M531.5,269.9 h3.5 M64.0,226.2 h-3.5 M531.5,226.2 h3.5 M64.0,204.0 h-3.5 M531.5,204.0 h3.5 M64.0,188.3 h-3.5 M531.5,188.3 h3.5 M64.0,176.1 h-3.5 M531.5,176.1 h3.5 M64.0,166.1 h-3.5 M531.5,166.1 h3.5 M64.0,157.7 h-3.5 M531.5,157.7 h3.5 M64.0,150.4 h-3.5 M531.5,150.4 h3.5 M64.0,144.0 h-3.5 M531.5,144.0 h3.5 M64.0,100.3 h-3.5 M531.5,100.3 h3.5 M64.0,78.1 h-3.5 M531.5,78.1 h3.5 M64.0,62.4 h-3.5 M531.5,62.4 h3.5 M64.0,50.2 h-3.5 M531.5,50.2 h3.5 M64.0,40.2 h-3.5 M531.5,40.2 h3.5 M64.0,31.8 h-3.5 M531.5,31.8 h3.5 M64.0,24.5 h-3.5 M531.5,24.5 h3.5 M64.0,18.1 h-3.5 M531.5,18.1 h3.5" stroke="#000" stroke-width="1.3" fill="none"/>
<text x="63.0" y="415.2" font-size="15.5" text-anchor="middle">0.01</text>
<text x="297.2" y="415.2" font-size="15.5" text-anchor="middle">0.1</text>
<text x="531.8" y="415.2" font-size="15.5" text-anchor="middle">1</text>
<text x="51" y="17.8" font-size="15.3" text-anchor="end">10<tspan font-size="10.5" dy="-6.3">0</tspan></text>
<text x="51" y="143.7" font-size="15.3" text-anchor="end">10<tspan font-size="10.5" dy="-6.3">-1</tspan></text>
<text x="51" y="269.6" font-size="15.3" text-anchor="end">10<tspan font-size="10.5" dy="-6.3">-2</tspan></text>
<text x="51" y="395.5" font-size="15.3" text-anchor="end">10<tspan font-size="10.5" dy="-6.3">-3</tspan></text>
<text x="297.5" y="435.7" font-size="19.8" text-anchor="middle">Porosity, <tspan font-style="italic">n</tspan></text>
<g transform="translate(19.9,0) rotate(-90)" font-size="19.5">
<text x="-345.6" y="0" font-size="19.4">Effective void ratio function,</text>
<g font-style="italic" text-anchor="middle">
<text x="-111.2" y="0">e</text>
<text x="-102.0" y="4.5" font-size="12">e</text>
<text x="-94.4" y="0" font-style="normal" font-size="18.5">=</text>
<text x="-84.4" y="0">f</text>
<text x="-77.2" y="0">(</text>
<text x="-69.6" y="0">e</text>
<text x="-59.6" y="0">)</text>
</g></g>
<text x="193.2" y="157.7" font-size="15.8">sandy</text>
<text x="342" y="146.5" font-size="16">silty</text>
<text x="414" y="200" font-size="16">clay</text>
<text x="101.5" y="207.7" font-size="12.3" fill="#000" style="stroke:#000"><tspan font-style="italic">m</tspan> = 0</text>
<text x="106" y="293.7" font-size="12.3" fill="#000" style="stroke:#000"><tspan font-style="italic">m</tspan> = 0.1</text>
<text x="299.4" y="182.3" font-size="12.3" fill="#1a9a1a" style="stroke:#1a9a1a"><tspan font-style="italic">m</tspan> = 0.8</text>
<text x="266.4" y="221.7" font-size="12.3" fill="#ff1a1a" style="stroke:#ff1a1a"><tspan font-style="italic">m</tspan> = 1.0</text>
<text x="234" y="260.5" font-size="12.3" fill="#1a9a1a" style="stroke:#1a9a1a"><tspan font-style="italic">m</tspan> = 1.2</text>
<text x="341.6" y="333.7" font-size="12.3" fill="#1a1aff" style="stroke:#1a1aff"><tspan font-style="italic">m</tspan> = 1.5</text>
<text x="327" y="378.1" font-size="12.3" fill="#ff1a1a" style="stroke:#ff1a1a"><tspan font-style="italic">m</tspan> = 2.0</text>
<path d="M123.6,210.6 L131.5,217.3" stroke="#000" stroke-width="0.9" fill="none"/>
<path d="M138.1,222.9 L129.8,219.4 L133.3,215.3Z" fill="#000"/>
<path d="M117.7,280.6 L113.0,269.5" stroke="#000" stroke-width="0.9" fill="none"/>
<path d="M109.6,261.6 L115.5,268.5 L110.5,270.6Z" fill="#000"/>
<path d="M323.8,186.9 L324.9,193.9" stroke="#000" stroke-width="0.9" fill="none"/>
<path d="M326.3,202.4 L322.3,194.3 L327.6,193.5Z" fill="#000"/>
<path d="M294.0,224.6 L299.8,243.3" stroke="#1c3a2a" stroke-width="0.9" fill="none"/>
<path d="M302.3,251.5 L297.2,244.1 L302.3,242.5Z" fill="#0e4a30"/>
<path d="M261.7,263.4 L273.3,297.3" stroke="#5a3a2a" stroke-width="0.9" fill="none"/>
<path d="M276.1,305.4 L270.8,298.1 L275.9,296.4Z" fill="#8a3028"/>
<path d="M341.1,323.8 L323.3,299.8" stroke="#8b1a1a" stroke-width="0.9" fill="none"/>
<path d="M318.2,292.9 L325.5,298.2 L321.2,301.4Z" fill="#8b1a1a"/>
<path d="M329.8,369.5 L321.7,363.8" stroke="#000" stroke-width="0.9" fill="none"/>
<path d="M314.7,358.8 L323.3,361.6 L320.2,366.0Z" fill="#000"/>
<g class="f" font-size="14.5" font-style="italic">
<text x="120" y="90">e</text><text x="127" y="93.5" font-size="9.5">e</text>
<text x="136.5" y="90" font-style="normal">=</text>
<text x="149.3" y="90">e</text>
<text x="177" y="82.4">e</text>
<text x="165.6" y="100.7" font-style="normal">1</text><text x="172.4" y="100.7" font-style="normal">+</text><text x="185.6" y="100.7">e</text>
<text x="203.5" y="73" font-size="8.5">m</text>
</g>
<path d="M165.6,86.7 H194" stroke="#000" stroke-width="0.8"/>
<text transform="translate(156.6,98.4) scale(1.1,2.75)" font-size="14.5" fill="#000" style="stroke:none">(</text>
<text transform="translate(196.2,98.4) scale(1.1,2.75)" font-size="14.5" fill="#000" style="stroke:none">)</text>
<text x="439.2" y="242.2" font-size="12.6">Gao et al. 2016</text>
<text x="439.2" y="257.1" font-size="12.6">Hong et al. 2016</text>
<text x="439.2" y="272.6" font-size="12.6">Yang et al. 2011</text>
<text x="439.2" y="288.2" font-size="12.6">Dang et al. 2015</text>
<text x="439.2" y="319.4" font-size="12.6">Heifangtai</text>
<text x="439.2" y="335.2" font-size="12.6">Jingyang</text>
<text x="439.2" y="350.6" font-size="12.6">Yan'an</text>
<text x="439.2" y="366.1" font-size="12.6">Yanchuan</text>
<text x="408" y="304" font-size="12.6">This study</text>
<rect x="419.3" y="236.29999999999998" width="4.6" height="4.6" fill="#ff1414"/>
<circle cx="421.6" cy="253.2" r="2.5" fill="#1f5fa8"/>
<path d="M421.6,265.7 l3,3.3 l-3,3.3 l-3,-3.3Z" fill="#5b58a6"/>
<path d="M418.6,284.6 l5.4,-3 v6Z" fill="#9a9a9a"/>
<path d="M424.6,315.8 l-5.4,-3 v6Z" fill="#f05a5a"/>
<circle cx="421.6" cy="331.6" r="2.6" fill="#3a9ad9"/>
<path d="M421.6,343.7 L422.4,345.9 L424.7,346.0 L422.9,347.4 L423.5,349.7 L421.6,348.4 L419.7,349.7 L420.3,347.4 L418.5,346.0 L420.8,345.9Z" fill="#e8641a"/>
<path d="M421.6,359.6 L424.5,361.7 L423.4,365.2 L419.8,365.2 L418.7,361.7Z" fill="#12a0a0"/>
</svg>
</body></html>
